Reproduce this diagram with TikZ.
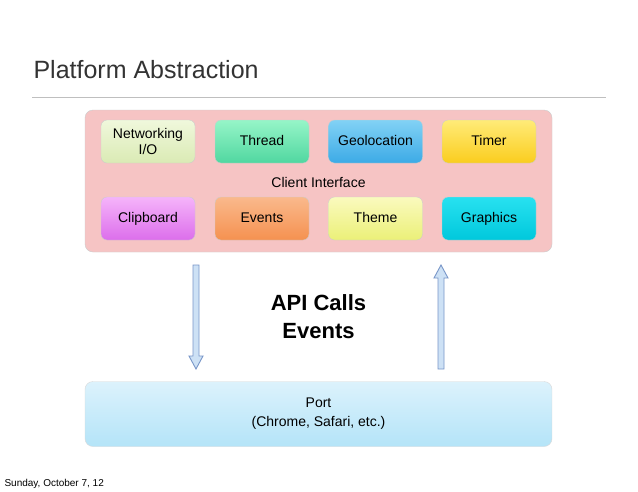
\documentclass[tikz,border=0pt]{standalone}
\usepackage{fontspec}
\setmainfont{Liberation Sans}
\begin{document}
\begin{tikzpicture}[x=1pt,y=-1pt,
  box/.style={draw=black!20,rounded corners=6pt,minimum width=94pt,minimum height=43pt,font=\fontsize{14}{15.5}\selectfont,align=center,inner sep=0pt,text height=10pt,text depth=3pt},
  arr/.style={draw={rgb,255:red,120;green,150;blue,200},fill={rgb,255:red,205;green,225;blue,245},line width=0.9pt}]
\useasboundingbox (0,0) rectangle (638,491);
\fill[white] (0,0) rectangle (638,491);
\node[anchor=west,font=\fontsize{25}{28}\selectfont,text=black!80] (title) at (30,70) {Platform Abstraction};
\draw[black!25] (32,97) -- (606,97);
\node[draw=black!20,fill={rgb,255:red,246;green,196;blue,196},rounded corners=8pt,minimum width=467pt,minimum height=142pt,inner sep=0pt] (client) at (318.5,181) {};
\node[font=\fontsize{14}{15}\selectfont] (ci) at (318.5,182) {Client Interface};
\node[box,text height=,text depth=,top color={rgb,255:red,240;green,248;blue,220},bottom color={rgb,255:red,218;green,234;blue,180}] (net) at (148,141.5) {Networking\\I/O};
\node[box,top color={rgb,255:red,150;green,245;blue,200},bottom color={rgb,255:red,80;green,215;blue,160}] (thr) at (262,141.5) {Thread};
\node[box,top color={rgb,255:red,130;green,210;blue,245},bottom color={rgb,255:red,60;green,170;blue,230}] (geo) at (375.5,141.5) {Geolocation};
\node[box,top color={rgb,255:red,255;green,235;blue,120},bottom color={rgb,255:red,250;green,205;blue,30}] (tim) at (489,141.5) {Timer};
\node[box,top color={rgb,255:red,245;green,180;blue,250},bottom color={rgb,255:red,220;green,110;blue,235}] (clip) at (148,218.5) {Clipboard};
\node[box,top color={rgb,255:red,250;green,185;blue,140},bottom color={rgb,255:red,245;green,145;blue,80}] (ev) at (262,218.5) {Events};
\node[box,top color={rgb,255:red,250;green,250;blue,190},bottom color={rgb,255:red,235;green,240;blue,120}] (th) at (375.5,218.5) {Theme};
\node[box,top color={rgb,255:red,40;green,225;blue,240},bottom color={rgb,255:red,0;green,200;blue,220}] (gr) at (489,218.5) {Graphics};
\node[draw=black!15,top color={rgb,255:red,220;green,242;blue,252},bottom color={rgb,255:red,180;green,228;blue,248},rounded corners=8pt,minimum width=467pt,minimum height=65pt,inner sep=0pt,align=center,font=\fontsize{14}{19}\selectfont] (port) at (318.5,414) {Port\\(Chrome, Safari, etc.)};
\node[font=\bfseries\fontsize{22}{28}\selectfont,align=center] (api) at (318.5,317) {API Calls\\Events};
\draw[arr] (193,265) -- (199,265) -- (199,356) -- (203,356) -- (196,369) -- (189,356) -- (193,356) -- cycle;
\draw[arr] (438,369) -- (444,369) -- (444,278) -- (448,278) -- (441,265) -- (434,278) -- (438,278) -- cycle;
\node[anchor=west,font=\fontsize{10}{12}\selectfont] (date) at (1,484) {Sunday, October 7, 12};
\end{tikzpicture}
\end{document}
